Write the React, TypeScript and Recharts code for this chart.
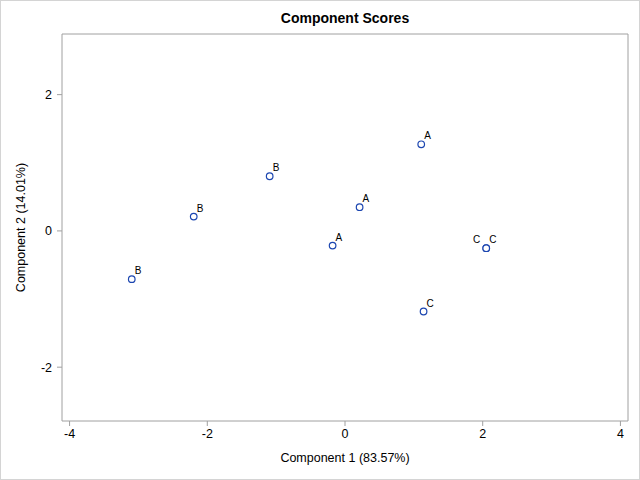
import { ScatterChart, Scatter, XAxis, YAxis, Label, ReferenceLine } from "recharts";

// component scores
const componentLabels = ["A", "B", "A", "B", "A", "C", "C", "B", "C"];
const component1 = [1.107, -1.094, 0.212, -2.197, -0.18, 2.051, 2.051, -3.097, 1.141];
const component2 = [1.271, 0.802, 0.348, 0.21, -0.216, -0.254, -0.254, -0.708, -1.183];

const xTicks = [-4, -2, 0, 2, 4];
const yTicks = [-2, 0, 2];

const frameColor = "#a0a0a0";
const markerColor = "#1c46b0";
const fontFamily = "'Liberation Sans', Arial, sans-serif";

const points = componentLabels.map((label, i) => {
  // a point sitting exactly on an earlier one gets its label on the left
  const dup = component1.slice(0, i).some((x, j) => x === component1[i] && component2[j] === component2[i]);
  return { x: component1[i], y: component2[i], label, side: dup ? "left" : "right" };
});

const xDomain = [-4.11, 4.11];
const yDomain = [-2.79, 2.89];

function LabeledMarker(props: any) {
  const { cx, cy, payload } = props;
  if (cx == null || cy == null) return null;
  const left = payload.side === "left";
  return (
    <g>
      <circle cx={cx} cy={cy} r={3.3} fill="#fff" stroke={markerColor} strokeWidth={1.2} />
      <text
        x={left ? cx - 6 : cx + 3}
        y={cy - 5}
        textAnchor={left ? "end" : "start"}
        fontSize={10}
        fontFamily={fontFamily}
        fill="#000"
      >
        {payload.label}
      </text>
    </g>
  );
}

export default function App() {
  const tickStyle = { fill: "#000", fontSize: 12.5, fontFamily };
  return (
    <div style={{ position: "absolute", left: 0, top: 0, width: 640, height: 480, background: "#fff" }}>
      <div
        style={{
          position: "absolute",
          left: 62,
          width: 566,
          top: 10,
          textAlign: "center",
          fontFamily,
          fontWeight: "bold",
          fontSize: 14,
          color: "#000",
        }}
      >
        Component Scores
      </div>
      <ScatterChart width={640} height={480} margin={{ top: 34, right: 12, bottom: 14, left: 0 }}>
        <XAxis
          dataKey="x"
          type="number"
          domain={xDomain}
          allowDataOverflow
          ticks={xTicks}
          tick={tickStyle}
          tickSize={5}
          tickMargin={3}
          height={45}
          axisLine={{ stroke: frameColor }}
          tickLine={{ stroke: frameColor }}
        >
          <Label
            value="Component 1 (83.57%)"
            position="insideBottom"
            offset={4}
            style={{ fill: "#000", fontSize: 12.5, fontFamily }}
          />
        </XAxis>
        <YAxis
          dataKey="y"
          type="number"
          domain={yDomain}
          allowDataOverflow
          ticks={yTicks}
          tick={tickStyle}
          tickSize={5}
          tickMargin={5}
          width={62}
          axisLine={{ stroke: frameColor }}
          tickLine={{ stroke: frameColor }}
        >
          <Label
            value="Component 2 (14.01%)"
            angle={-90}
            position="insideLeft"
            offset={21}
            style={{ fill: "#000", fontSize: 12.5, fontFamily, textAnchor: "middle" }}
          />
        </YAxis>
        {/* top and right edges of the frame */}
        <ReferenceLine y={yDomain[1]} stroke={frameColor} />
        <ReferenceLine x={xDomain[1]} stroke={frameColor} />
        <Scatter data={points} shape={<LabeledMarker />} isAnimationActive={false} />
      </ScatterChart>
      <div
        style={{
          position: "absolute",
          left: 0,
          top: 0,
          width: 640,
          height: 480,
          boxSizing: "border-box",
          border: "1px solid #d4d4d4",
          pointerEvents: "none",
        }}
      />
    </div>
  );
}
